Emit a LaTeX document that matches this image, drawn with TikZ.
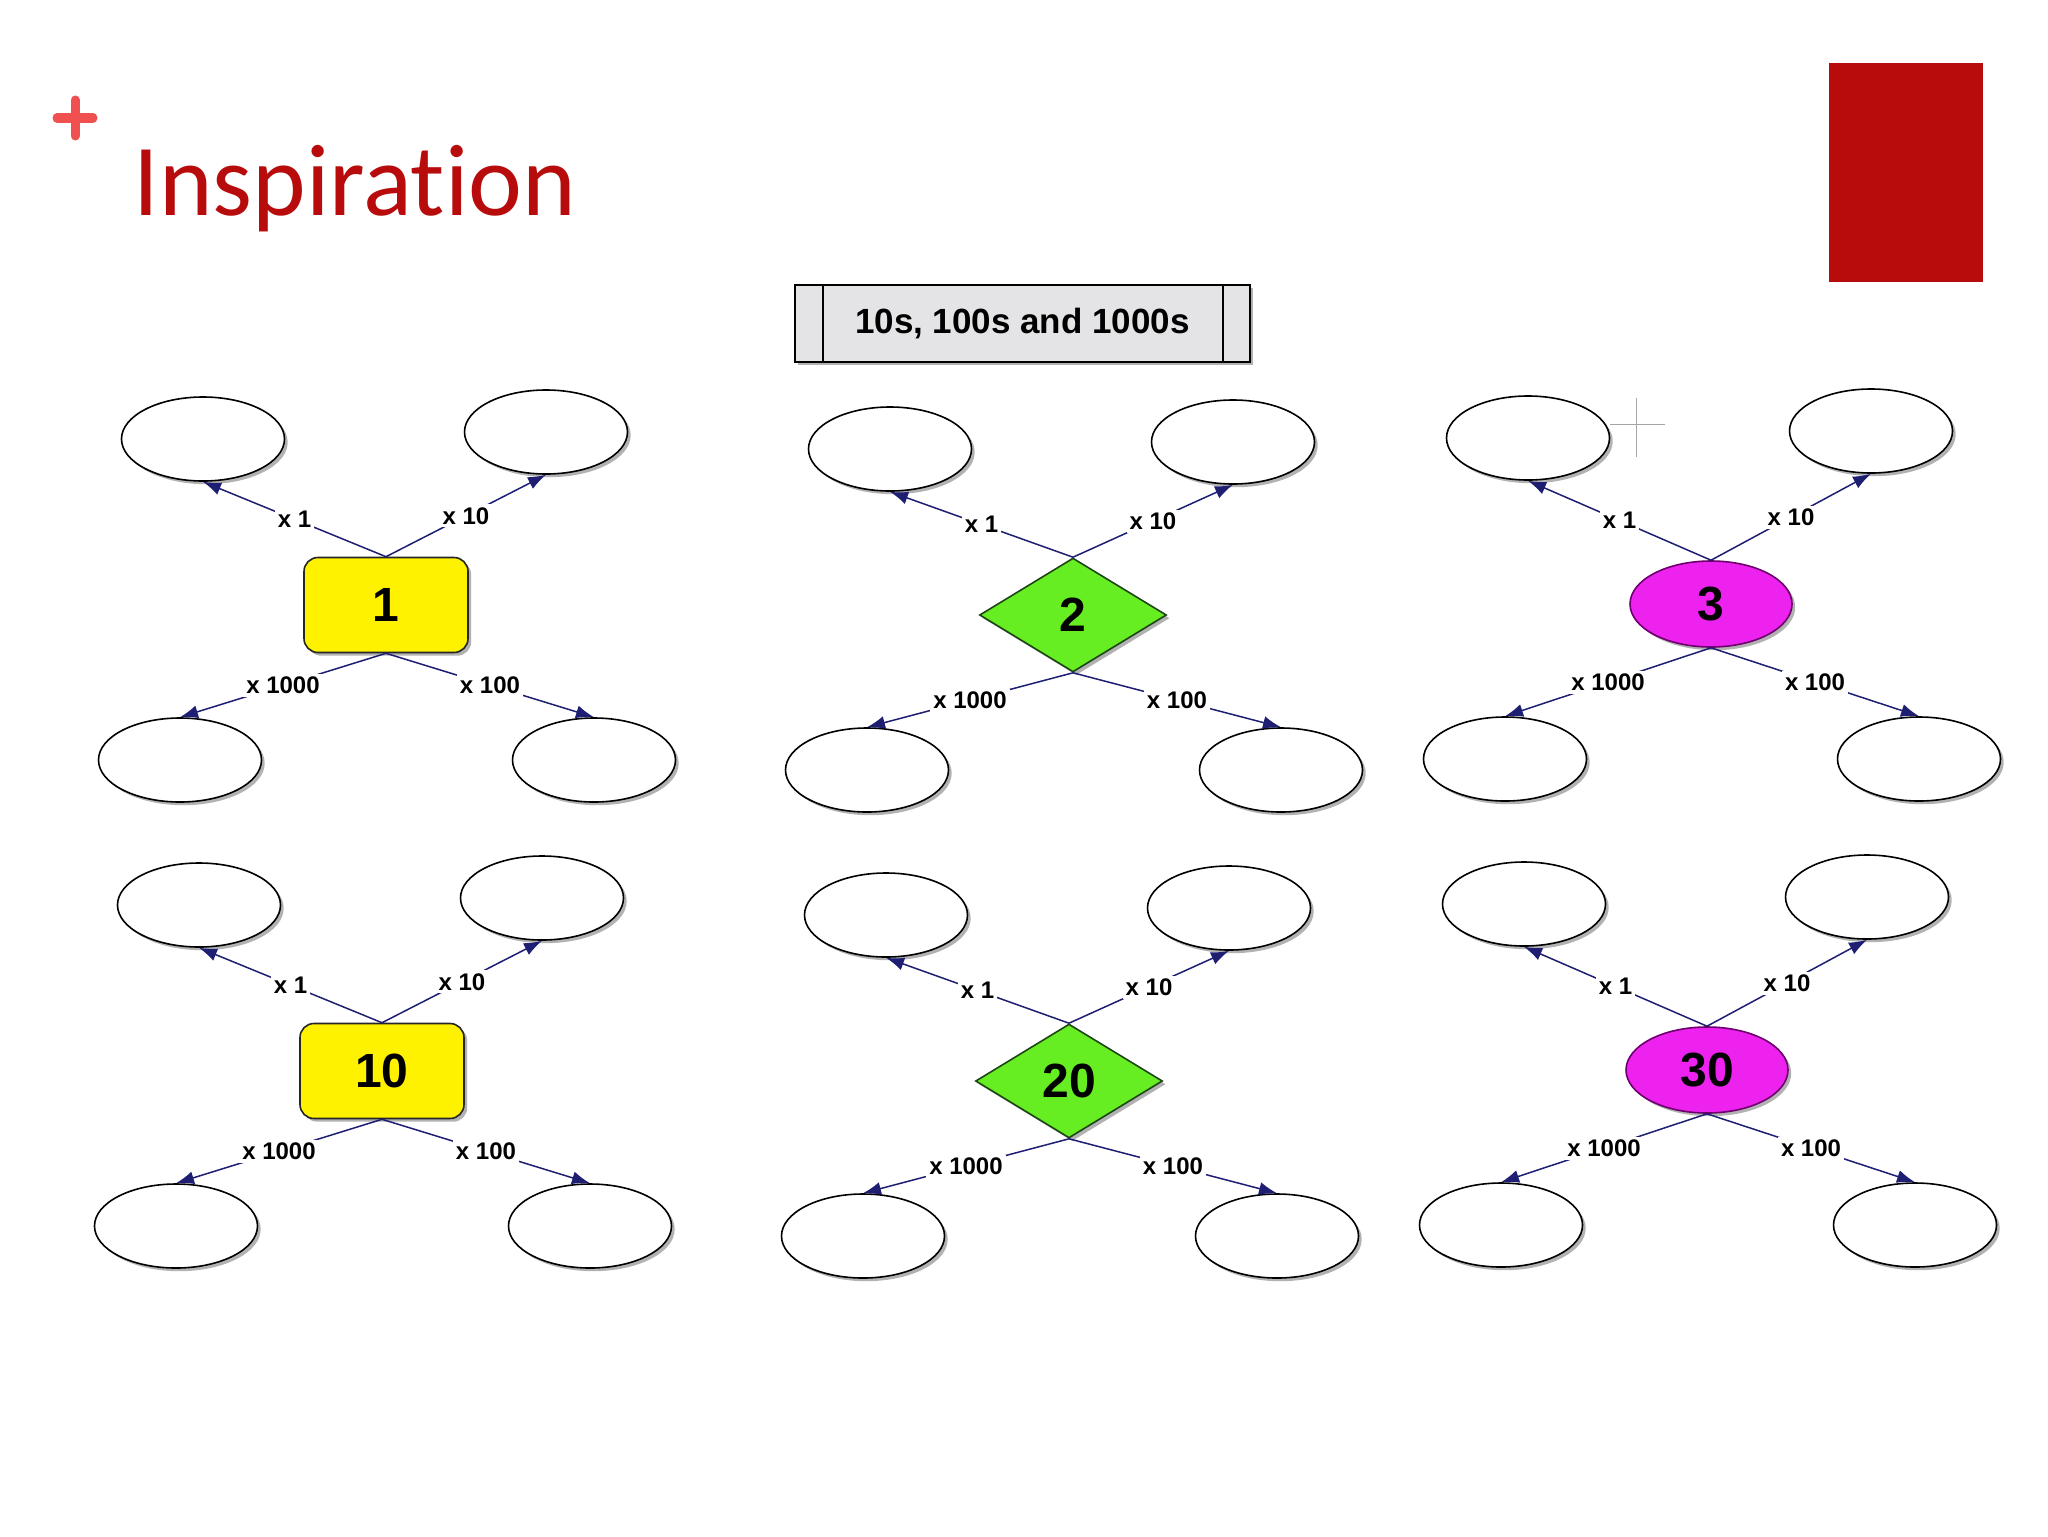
\documentclass[tikz,border=0pt]{standalone}
\usepackage{fontspec}
\setmainfont{Liberation Sans}
\newfontfamily\titlefont[Ligatures=NoCommon]{Carlito}
\usetikzlibrary{shapes.geometric,arrows.meta,shadows}
\definecolor{titlered}{RGB}{184,12,12}
\definecolor{plusred}{RGB}{240,80,80}
\definecolor{navyline}{RGB}{30,30,115}
\definecolor{hdrgray}{RGB}{228,228,230}
\definecolor{limefill}{RGB}{102,238,34}
\definecolor{limedraw}{RGB}{30,70,20}
\definecolor{magfill}{RGB}{238,34,238}
\definecolor{magdraw}{RGB}{110,0,110}
\newcommand{\mkcluster}[5]{%
  \begin{scope}[shift={(#2,#3)}]
    \node[#4] (#1) at (0,0) {#5};
    \node[blank] (#1tl) at (-183,-166) {};
    \node[blank] (#1tr) at (160,-173) {};
    \node[blank] (#1bl) at (-206,155) {};
    \node[blank] (#1br) at (208,155) {};
  \end{scope}
  \draw[link] (#1.north) -- node[lbl]{x 1} (#1tl.south);
  \draw[link] (#1.north) -- node[lbl]{x 10} (#1tr.south);
  \draw[link] (#1.south) -- node[lbl]{x 1000} (#1bl.north);
  \draw[link] (#1.south) -- node[lbl]{x 100} (#1br.north);
}
\begin{document}
\begin{tikzpicture}[x=0.5pt,y=-0.5pt,
  shad/.style={drop shadow={shadow xshift=1.6pt,shadow yshift=-1.6pt,fill=black,opacity=0.3}},
  blank/.style={ellipse,draw=black,line width=0.8pt,fill=white,minimum width=81.5pt,minimum height=42pt,inner sep=0pt,shad},
  numfont/.style={font=\bfseries\fontsize{24}{24}\selectfont},
  ybox/.style={rectangle,rounded corners=7pt,draw=black!85,line width=0.8pt,fill=yellow,minimum width=82pt,minimum height=47.5pt,inner sep=0pt,numfont,shad},
  gdiam/.style={diamond,draw=limedraw,line width=0.8pt,fill=limefill,minimum width=93.5pt,minimum height=57pt,inner sep=0pt,numfont,shad},
  mell/.style={ellipse,draw=magdraw,line width=0.8pt,fill=magfill,minimum width=81pt,minimum height=43pt,inner sep=0pt,numfont,shad},
  link/.style={draw=navyline,line width=0.75pt,-{Latex[length=9pt,width=6.5pt]}},
  lbl/.style={midway,fill=white,inner sep=1.5pt,font=\bfseries\fontsize{12}{12}\selectfont},
  hdr/.style={rectangle,draw=black,line width=0.8pt,fill=hdrgray,minimum width=227.5pt,minimum height=38.5pt,inner sep=0pt,font=\bfseries\fontsize{17.5}{17.5}\selectfont,shad}
]
\useasboundingbox (0,0) rectangle (2048,1536);
\fill[white] (0,0) rectangle (2048,1536);
% title area
\draw[plusred,line width=4.5pt,line cap=round] (57,118) -- (93,118);
\draw[plusred,line width=4.5pt,line cap=round] (75,100) -- (75,136);
\node[anchor=base west,inner sep=0pt,text=titlered,font=\titlefont\fontsize{51}{51}\selectfont] (title) at (133,215) {Inspiration};
\fill[titlered] (1829,63) rectangle (1983,282);
% header
\node[hdr] (hdr) at (1022.5,323.5) {10s, 100s and 1000s};
\draw[line width=0.8pt] ([xshift=14.5pt]hdr.north west) -- ([xshift=14.5pt]hdr.south west);
\draw[line width=0.8pt] ([xshift=-14pt]hdr.north east) -- ([xshift=-14pt]hdr.south east);
% clusters
\mkcluster{ca}{386}{605}{ybox}{1}
\mkcluster{cb}{1073}{615}{gdiam}{2}
\mkcluster{cc}{1711}{604}{mell}{3}
\mkcluster{cd}{382}{1071}{ybox}{10}
\mkcluster{ce}{1069}{1081}{gdiam}{20}
\mkcluster{cf}{1707}{1070}{mell}{30}
% stray crosshair
\draw[black!35,line width=0.4pt] (1610,424) -- (1665,424);
\draw[black!35,line width=0.4pt] (1636,398) -- (1636,457);
\end{tikzpicture}
\end{document}
